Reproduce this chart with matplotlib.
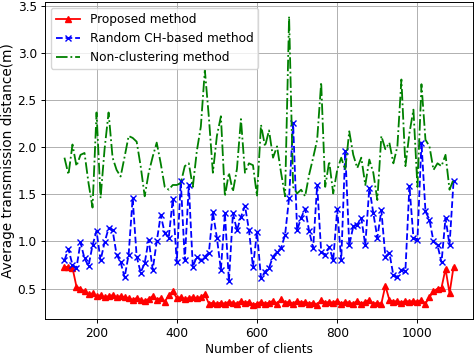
import numpy as np
import matplotlib
matplotlib.use("Agg")
import matplotlib.pyplot as plt

# number of clients, one point every 10 clients
clients = list(range(120, 1100, 10))

proposed = [0.73, 0.73, 0.72, 0.52, 0.50, 0.47, 0.44, 0.45, 0.42, 0.43,
            0.41, 0.42, 0.43, 0.41, 0.42, 0.41, 0.40, 0.38, 0.40, 0.38,
            0.37, 0.39, 0.42, 0.38, 0.40, 0.36, 0.43, 0.47, 0.40, 0.41,
            0.39, 0.40, 0.41, 0.40, 0.41, 0.44, 0.34, 0.35, 0.34, 0.35,
            0.34, 0.36, 0.35, 0.34, 0.37, 0.35, 0.36, 0.33, 0.34, 0.36,
            0.34, 0.35, 0.37, 0.34, 0.39, 0.35, 0.36, 0.34, 0.37, 0.35,
            0.36, 0.34, 0.35, 0.33, 0.38, 0.35, 0.36, 0.35, 0.37, 0.34,
            0.36, 0.35, 0.34, 0.37, 0.34, 0.36, 0.38, 0.34, 0.35, 0.34,
            0.53, 0.38, 0.36, 0.37, 0.35, 0.37, 0.36, 0.37, 0.36, 0.38,
            0.34, 0.41, 0.47, 0.50, 0.51, 0.71, 0.45, 0.73]

random_ch = [0.80, 0.92, 0.75, 0.72, 0.99, 0.82, 0.74, 0.96, 1.11, 0.80,
             0.99, 1.14, 1.12, 0.86, 0.78, 0.62, 0.86, 1.46, 0.84, 0.67,
             0.77, 1.02, 0.70, 1.00, 1.28, 1.09, 1.04, 1.45, 0.78, 1.64,
             0.80, 1.60, 0.73, 0.84, 0.80, 0.84, 0.88, 1.31, 1.04, 0.70,
             1.30, 0.58, 1.30, 1.12, 1.26, 1.38, 1.12, 0.73, 1.10, 0.61,
             0.68, 0.72, 0.84, 0.89, 0.93, 1.07, 1.46, 2.26, 1.12, 1.25,
             1.35, 1.11, 0.93, 1.60, 0.89, 0.86, 0.94, 0.80, 1.34, 0.80,
             1.96, 0.96, 1.16, 1.18, 1.25, 0.96, 1.57, 1.30, 1.04, 1.33,
             0.84, 0.88, 0.64, 0.62, 0.70, 0.69, 1.59, 1.04, 1.02, 2.05,
             1.32, 1.23, 1.00, 0.96, 0.78, 1.25, 0.96, 1.64]

non_clustering = [1.89, 1.71, 2.03, 1.80, 1.92, 1.94, 1.62, 1.36, 2.37, 1.46,
                  1.98, 2.37, 1.89, 1.76, 1.69, 1.90, 2.12, 2.10, 2.06, 1.80,
                  1.48, 1.73, 1.90, 2.05, 1.83, 1.58, 1.55, 1.60, 1.60, 1.62,
                  1.80, 1.83, 1.58, 1.96, 2.22, 2.82, 2.32, 1.73, 2.12, 2.33,
                  1.48, 1.73, 1.53, 1.77, 2.30, 1.73, 1.83, 1.81, 1.48, 2.24,
                  2.01, 2.18, 1.89, 2.01, 1.73, 1.48, 3.39, 1.58, 1.51, 1.55,
                  1.48, 1.71, 1.89, 2.08, 2.69, 1.58, 1.85, 1.51, 1.76, 1.89,
                  1.76, 2.17, 1.92, 1.78, 1.89, 1.60, 1.87, 1.73, 1.44, 2.12,
                  1.98, 2.05, 1.83, 2.01, 2.72, 1.80, 2.15, 2.40, 1.58, 2.67,
                  2.08, 2.01, 1.76, 1.83, 1.80, 1.92, 1.55, 1.66]

plt.rcParams["font.size"] = 8.7
plt.rcParams["axes.linewidth"] = 0.7

fig = plt.figure(figsize=(4.74, 3.56), dpi=100)
ax = fig.add_subplot(111)
fig.subplots_adjust(left=45/474, right=473/474, top=1-2/356, bottom=1-319/356)

ax.plot(clients, proposed, color="red", marker="^", markersize=4.5,
        linestyle="-", linewidth=1.3, label="Proposed method")
ax.plot(clients, random_ch, color="blue", marker="x", markersize=5,
        linestyle="--", linewidth=1.3, label="Random CH-based method")
ax.plot(clients, non_clustering, color="green", linestyle="-.",
        linewidth=1.3, label="Non-clustering method")

ax.set_xticks([200, 400, 600, 800, 1000])
ax.set_yticks([0.5, 1.0, 1.5, 2.0, 2.5, 3.0, 3.5])
ax.tick_params(length=3, width=0.7, pad=3)
ax.grid(True, color="#b0b0b0", linewidth=0.7)
ax.set_xlabel("Number of clients", labelpad=2)
ax.set_ylabel("Average transmission distance(m)", fontsize=9.8, labelpad=2)
ax.legend(loc="upper left")

fig.savefig("out.png", dpi=100)
